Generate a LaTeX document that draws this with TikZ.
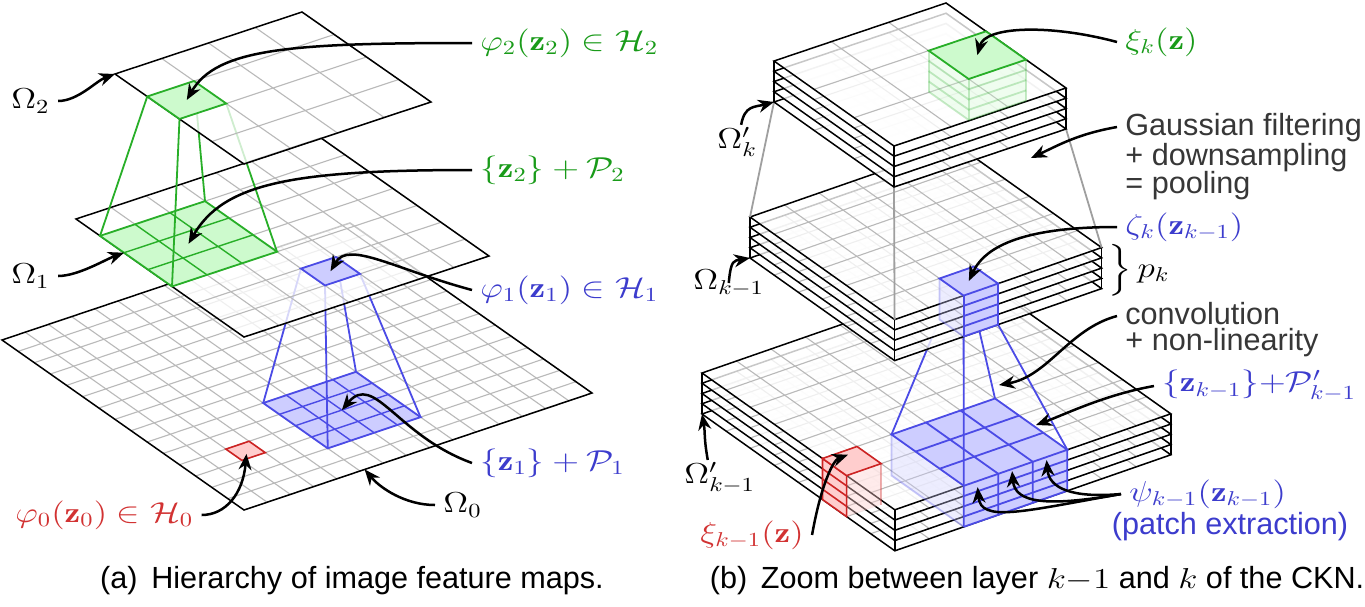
\documentclass[tikz,border=0pt]{standalone}
\usepackage{amsmath}
\usepackage{amssymb}
\usepackage{graphicx}
\usepackage{fontspec}
\setsansfont{Liberation Sans}
\usetikzlibrary{arrows.meta}

\definecolor{mapgreen}{RGB}{40,175,40}
\definecolor{mapgreenfill}{RGB}{205,250,205}
\definecolor{labgreen}{RGB}{25,155,25}
\definecolor{mapblue}{RGB}{75,75,230}
\definecolor{mapbluefill}{RGB}{205,205,255}
\definecolor{labblue}{RGB}{60,60,205}
\definecolor{mapred}{RGB}{205,35,35}
\definecolor{mapredfill}{RGB}{255,205,205}
\definecolor{labred}{RGB}{210,50,50}
\definecolor{notegray}{RGB}{55,55,55}

\newcommand{\wm}[1]{\scalebox{1.22}[1]{$#1$}}

\tikzset{
  planefill/.style={fill=white, fill opacity=0.78},
  gridline/.style={gray!55, line width=0.55pt},
  planeedge/.style={black, line width=0.75pt},
  blueedge/.style={draw=mapblue, line width=0.9pt},
  greenedge/.style={draw=mapgreen, line width=0.9pt},
  rededge/.style={draw=mapred, line width=0.8pt},
  poolline/.style={gray!75, line width=0.9pt},
  mathlab/.style={inner xsep=4pt, inner ysep=1pt, font=\Large},
  textlab/.style={inner xsep=4pt, inner ysep=0pt, font=\fontsize{15.3}{15.5}\selectfont\sffamily,
    text=notegray, text height=10pt, text depth=2pt},
  caption/.style={font=\fontsize{15.3}{18}\selectfont\sffamily},
  pointer/.style={-{Stealth[length=8pt,width=6.5pt]}, line width=1.25pt},
  om0/.style={shift={(2,340)}, x={(8.067pt,-5.667pt)}, y={(11.6pt,3.9pt)}},
  om1/.style={shift={(76,219)}, x={(12pt,-8.43pt)}, y={(17.5pt,5.786pt)}},
  om2/.style={shift={(115,74)}, x={(16.125pt,-11.25pt)}, y={(23.375pt,7.75pt)}},
  topblk/.style={shift={(774,61)}, x={(20pt,-14.17pt)}, y={(28.67pt,9.67pt)}, z={(0pt,-5.125pt)}},
  midblk/.style={shift={(750,217)}, x={(12.05pt,-8.55pt)}, y={(17.25pt,6pt)}, z={(0pt,-5.125pt)}},
  botblk/.style={shift={(702,373)}, x={(12.05pt,-8.55pt)}, y={(17.25pt,6pt)}, z={(0pt,-5.125pt)}}
}

\newcommand{\mapplane}[2]{%
  \fill[planefill] (0,0,#1) -- (#2,0,#1) -- (#2,#2,#1) -- (0,#2,#1) -- cycle;
  \foreach \ii in {1,...,#2} {\draw[gridline] (\ii,0,#1) -- (\ii,#2,#1) (0,\ii,#1) -- (#2,\ii,#1);}
  \draw[planeedge] (0,0,#1) -- (#2,0,#1) -- (#2,#2,#1) -- (0,#2,#1) -- cycle;}

\newcommand{\mapstack}[1]{%
  \foreach \lay in {4,...,0} {\mapplane{\lay}{#1}}
  \draw[planeedge] (0,0,0) -- (0,0,4) (#1,0,0) -- (#1,0,4) (#1,#1,0) -- (#1,#1,4);}

\begin{document}
\begin{tikzpicture}[x=0.5pt, y=-0.5pt]
  \fill[white] (0,0) rectangle (1365,606);
  \useasboundingbox (0,0) rectangle (1365,606);

  \begin{scope}[om0]
    \coordinate (b0L) at (9,5); \coordinate (b0F) at (13,5);
    \coordinate (b0R) at (13,9); \coordinate (b0T) at (9,9);
    \coordinate (b0c) at (11,7); \coordinate (r0c) at (11.7,2.4);
    \coordinate (om0tip) at (15,5.2);
  \end{scope}
  \begin{scope}[om1]
    \coordinate (b1L) at (5,3); \coordinate (b1F) at (6,3);
    \coordinate (b1R) at (6,4); \coordinate (b1T) at (5,4);
    \coordinate (b1c) at (5.5,3.5);
    \coordinate (g1L) at (1,0); \coordinate (g1F) at (4,0);
    \coordinate (g1R) at (4,3); \coordinate (g1T) at (1,3);
    \coordinate (g1c) at (2.5,1.5); \coordinate (om1tip) at (2,0);
  \end{scope}
  \begin{scope}[om2]
    \coordinate (g2L) at (1,0); \coordinate (g2F) at (2,0);
    \coordinate (g2R) at (2,1); \coordinate (g2T) at (1,1);
    \coordinate (g2c) at (1.5,0.5); \coordinate (om2tip) at (0,0);
  \end{scope}
  \begin{scope}[topblk]
    \coordinate (tL4) at (0,0,4); \coordinate (tF4) at (3,0,4);
    \coordinate (tR4) at (3,3,4); \coordinate (gkc) at (1.5,2.5,0);
  \end{scope}
  \begin{scope}[midblk]
    \coordinate (mL0) at (0,0,0); \coordinate (mF0) at (6,0,0);
    \coordinate (mR0) at (6,6,0); \coordinate (mL4) at (0,0,4);
    \coordinate (cL) at (5,2,4); \coordinate (cF) at (6,2,4);
    \coordinate (cR) at (6,3,4); \coordinate (cT) at (5,3,4);
    \coordinate (bmc) at (5.5,2.5,0);
  \end{scope}
  \begin{scope}[botblk]
    \coordinate (pL) at (5,2,0); \coordinate (pF) at (8,2,0);
    \coordinate (pR) at (8,5,0); \coordinate (pT) at (5,5,0);
    \coordinate (bL4) at (0,0,4); \coordinate (r1c) at (5.2,0.6,0);
    \coordinate (psi1) at (8,2.4,0.6); \coordinate (psi2) at (8,3.4,0.2);
    \coordinate (psi3) at (8,4.4,0.3);
  \end{scope}
  \coordinate (gtip) at (1031,158);
  \coordinate (convtip) at (999,385);
  \coordinate (ptip) at (1036,425);

  % (a)
  \begin{scope}[om0]
    \mapplane{0}{15}
    \filldraw[fill=mapredfill, rededge] (11,2) -- (12,2) -- (12,3) -- (11,3) -- cycle;
    \fill[mapbluefill] (9,5) -- (13,5) -- (13,9) -- (9,9) -- cycle;
    \foreach \ii in {10,11,12} {\draw[blueedge, line width=0.7pt] (\ii,5) -- (\ii,9);}
    \foreach \ii in {6,7,8} {\draw[blueedge, line width=0.7pt] (9,\ii) -- (13,\ii);}
    \draw[blueedge] (9,5) -- (13,5) -- (13,9) -- (9,9) -- cycle;
  \end{scope}
  \draw[blueedge] (b1L) -- (b0L) (b1F) -- (b0F) (b1R) -- (b0R) (b1T) -- (b0T);
  \begin{scope}[om1]
    \mapplane{0}{7}
    \filldraw[fill=mapbluefill, blueedge] (5,3) -- (6,3) -- (6,4) -- (5,4) -- cycle;
    \fill[mapgreenfill] (1,0) -- (4,0) -- (4,3) -- (1,3) -- cycle;
    \foreach \ii in {2,3} {\draw[greenedge, line width=0.7pt] (\ii,0) -- (\ii,3) (1,\ii-1) -- (4,\ii-1);}
    \draw[greenedge] (1,0) -- (4,0) -- (4,3) -- (1,3) -- cycle;
  \end{scope}
  \draw[greenedge] (g2L) -- (g1L) (g2F) -- (g1F) (g2R) -- (g1R) (g2T) -- (g1T);
  \begin{scope}[om2]
    \mapplane{0}{4}
    \filldraw[fill=mapgreenfill, greenedge] (1,0) -- (2,0) -- (2,1) -- (1,1) -- cycle;
  \end{scope}

  % (b)
  \begin{scope}[botblk]
    \mapstack{8}
    \fill[mapredfill, opacity=0.4] (6,0,0) -- (6,1,0) -- (6,1,4) -- (6,0,4) -- cycle;
    \draw[rededge, opacity=0.35] (6,1,0) -- (6,1,4);
    \filldraw[fill=mapredfill, rededge] (5,0,0) -- (6,0,0) -- (6,0,4) -- (5,0,4) -- cycle;
    \foreach \lay in {1,2,3} {\draw[rededge] (5,0,\lay) -- (6,0,\lay);}
    \filldraw[fill=mapredfill, rededge] (5,0,0) -- (6,0,0) -- (6,1,0) -- (5,1,0) -- cycle;
    \fill[mapbluefill, opacity=0.35] (5,2,0) -- (8,2,0) -- (8,2,4) -- (5,2,4) -- cycle;
    \fill[mapbluefill] (8,2,0) -- (8,5,0) -- (8,5,4) -- (8,2,4) -- cycle;
    \fill[mapbluefill] (5,2,0) -- (8,2,0) -- (8,5,0) -- (5,5,0) -- cycle;
    \foreach \ii in {6,7} {\draw[blueedge] (\ii,2,0) -- (\ii,5,0);}
    \foreach \ii in {3,4} {\draw[blueedge] (5,\ii,0) -- (8,\ii,0) -- (8,\ii,4);}
    \foreach \lay in {1,...,4} {\draw[blueedge] (8,2,\lay) -- (8,5,\lay);}
    \draw[blueedge] (5,2,0) -- (8,2,0) -- (8,5,0) -- (5,5,0) -- cycle
      (8,2,0) -- (8,2,4) (8,5,0) -- (8,5,4);
    \draw[blueedge, opacity=0.3] (5,2,0) -- (5,2,4) -- (8,2,4);
  \end{scope}
  \draw[blueedge] (cL) -- (pL) (cF) -- (pF) (cR) -- (pR) (cT) -- (pT);
  \begin{scope}[midblk]
    \mapstack{6}
    \fill[mapbluefill, opacity=0.35] (5,2,0) -- (6,2,0) -- (6,2,4) -- (5,2,4) -- cycle;
    \fill[mapbluefill] (6,2,0) -- (6,3,0) -- (6,3,4) -- (6,2,4) -- cycle;
    \filldraw[fill=mapbluefill, blueedge] (5,2,0) -- (6,2,0) -- (6,3,0) -- (5,3,0) -- cycle;
    \foreach \lay in {1,...,4} {\draw[blueedge] (6,2,\lay) -- (6,3,\lay);}
    \draw[blueedge] (6,2,0) -- (6,2,4) (6,3,0) -- (6,3,4);
    \draw[blueedge, opacity=0.3] (5,2,0) -- (5,2,4) -- (6,2,4);
  \end{scope}
  \draw[poolline] (tL4) -- (mL0) (tF4) -- (mF0) (tR4) -- (mR0);
  \begin{scope}[topblk]
    \mapstack{3}
    \fill[mapgreenfill, opacity=0.3] (1,2,0) -- (2,2,0) -- (2,3,0) -- (2,3,4) -- (2,2,4) -- (1,2,4) -- cycle;
    \foreach \lay in {1,...,4} {\draw[greenedge, opacity=0.25] (1,2,\lay) -- (2,2,\lay) -- (2,3,\lay);}
    \draw[greenedge, opacity=0.25] (1,2,0) -- (1,2,4) (2,2,0) -- (2,2,4) (2,3,0) -- (2,3,4);
    \filldraw[fill=mapgreenfill, greenedge] (1,2,0) -- (2,2,0) -- (2,3,0) -- (1,3,0) -- cycle;
  \end{scope}

  \node[mathlab, anchor=west, text=labgreen] (phi2) at (472,43) {\wm{\varphi_2(\mathbf{z}_2)\in\mathcal{H}_2}};
  \node[mathlab, anchor=west, text=labgreen] (zp2) at (472,170) {\wm{\{\mathbf{z}_2\}+\mathcal{P}_2}};
  \node[mathlab, anchor=west, text=labblue] (phi1) at (472,290) {\wm{\varphi_1(\mathbf{z}_1)\in\mathcal{H}_1}};
  \node[mathlab, anchor=west, text=labblue] (zp1) at (472,463) {\wm{\{\mathbf{z}_1\}+\mathcal{P}_1}};
  \node[mathlab, anchor=west] (om0) at (435,505) {\wm{\Omega_0}};
  \node[mathlab, anchor=west, text=labred] (phi0) at (7,515) {\wm{\varphi_0(\mathbf{z}_0)\in\mathcal{H}_0}};
  \node[mathlab, anchor=west] (om2) at (3,101) {\wm{\Omega_2}};
  \node[mathlab, anchor=west] (om1) at (3,276) {\wm{\Omega_1}};

  \node[mathlab, anchor=west, text=labgreen] (xik) at (1117,42) {\wm{\xi_k(\mathbf{z})}};
  \node[textlab, anchor=west] (gauss1) at (1117,127) {Gaussian filtering};
  \node[textlab, anchor=west] (gauss2) at (1117,157) {+ downsampling};
  \node[textlab, anchor=west] (gauss3) at (1117,185) {= pooling};
  \node[mathlab, anchor=west, text=labblue] (zeta) at (1117,227) {\wm{\zeta_k(\mathbf{z}_{k-1})}};
  \node[mathlab, anchor=west, inner xsep=2pt, inner ysep=0pt] (pk) at (1101,270) {\wm{\left.\vcenter{\hrule height 21pt width 0pt}\right\}p_k}};
  \node[mathlab, anchor=west] (omk1) at (685,283) {\wm{\Omega_{k-1}}};
  \node[mathlab, anchor=west] (omkp) at (709,142) {\wm{\Omega'_k}};
  \node[textlab, anchor=west] (conv1) at (1117,316) {convolution};
  \node[textlab, anchor=west] (conv2) at (1117,342) {+ non-linearity};
  \node[mathlab, anchor=west, text=labblue] (zpk) at (1154,386) {\wm{\{\mathbf{z}_{k-1}\}{+}\mathcal{P}'_{k-1}}};
  \node[mathlab, anchor=west, text=labblue] (psi) at (1121,494) {\wm{\psi_{k-1}(\mathbf{z}_{k-1})}};
  \node[textlab, text=labblue] (patch) at (1230,526) {(patch extraction)};
  \node[mathlab, anchor=west, text=labred] (xik1) at (692,535) {\wm{\xi_{k-1}(\mathbf{z})}};
  \node[mathlab, anchor=west] (omk1p) at (676,478) {\wm{\Omega'_{k-1}}};

  \node[caption] (capa) at (352,581) {(a)\hspace{0.45em}Hierarchy of image feature maps.};
  \node[caption] (capb) at (1037,581) {(b)\hspace{0.45em}Zoom between layer \wm{k{-}1} and \wm{k} of the CKN.};

  \draw[pointer] (phi2.west) to[out=180,in=60,out distance=90pt,in distance=30pt] (g2c);
  \draw[pointer] (zp2.west) to[out=180,in=60,out distance=90pt,in distance=35pt] (g1c);
  \draw[pointer] (phi1.west) to[out=165,in=60,out distance=40pt,in distance=18pt] (b1c);
  \draw[pointer] (zp1.west) to[out=160,in=50,out distance=40pt,in distance=25pt] (b0c);
  \draw[pointer] (om0.west) to[out=180,in=-50,out distance=15pt,in distance=12pt] (om0tip);
  \draw[pointer] (phi0.east) to[out=0,in=-95,out distance=12pt,in distance=20pt] (r0c);
  \draw[pointer] (om2.east) to[out=0,in=200,out distance=10pt,in distance=10pt] (om2tip);
  \draw[pointer] (om1.east) to[out=0,in=200,out distance=10pt,in distance=10pt] (om1tip);

  \draw[pointer] (xik.west) to[out=165,in=75,out distance=35pt,in distance=15pt] (gkc);
  \draw[pointer] (gauss1.west) to[out=190,in=25,out distance=20pt,in distance=15pt] (gtip);
  \draw[pointer] (zeta.west) to[out=180,in=65,out distance=45pt,in distance=20pt] (bmc);
  \draw[pointer] (omk1.center) to[out=85,in=190,out distance=12pt,in distance=8pt] (mL4);
  \draw[pointer] ([xshift=2pt]omkp.north) to[out=80,in=195,out distance=10pt,in distance=10pt] (tL4);
  \draw[pointer] ([xshift=-6pt]omk1p.north) to[out=100,in=-80,out distance=12pt,in distance=10pt] (bL4);
  \draw[pointer] (conv1.west) to[out=195,in=10,out distance=25pt,in distance=25pt] (convtip);
  \draw[pointer] (zpk.west) to[out=190,in=20,out distance=25pt,in distance=15pt] (ptip);
  \draw[pointer] (psi.west) to[out=190,in=-85,out distance=50pt,in distance=18pt] (psi1);
  \draw[pointer] (psi.west) to[out=190,in=-85,out distance=38pt,in distance=16pt] (psi2);
  \draw[pointer] (psi.west) to[out=185,in=-85,out distance=25pt,in distance=14pt] (psi3);
  \draw[pointer] (xik1.east) to[out=80,in=200,out distance=25pt,in distance=8pt] (r1c);
\end{tikzpicture}
\end{document}
